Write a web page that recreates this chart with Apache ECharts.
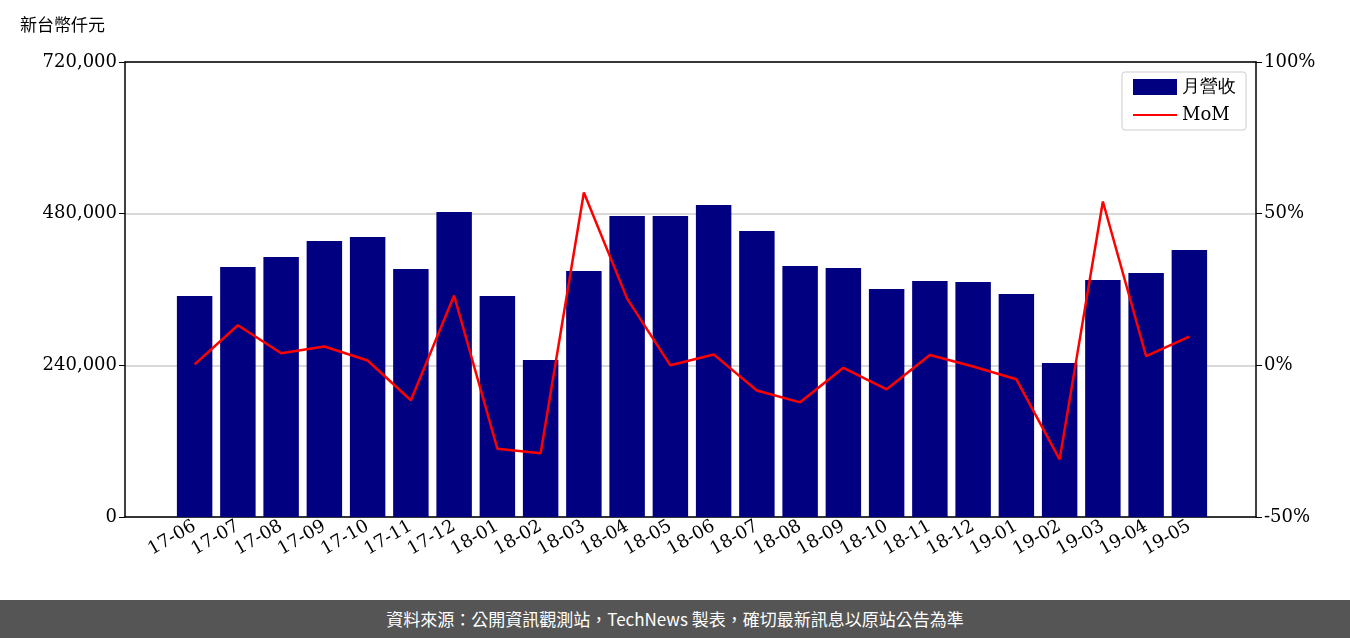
<!DOCTYPE html>
<html><head><meta charset="utf-8">
<script src="https://cdn.jsdelivr.net/npm/echarts@6/dist/echarts.min.js"></script>
<style>body{margin:0}#c{width:1350px;height:638px}
#f{position:absolute;left:0;top:600px;width:1350px;height:38px;background:#555;color:#fff;font:17px "Noto Sans CJK TC";text-align:center;line-height:38px}</style>
</head><body><div id="c"></div><div id="f">資料來源：公開資訊觀測站，TechNews 製表，確切最新訊息以原站公告為準</div>
<script>
var months = ['17-06','17-07','17-08','17-09','17-10','17-11','17-12','18-01','18-02','18-03','18-04','18-05','18-06','18-07','18-08','18-09','18-10','18-11','18-12','19-01','19-02','19-03','19-04','19-05'];
// 月營收 (新台幣仟元)
var revenue = [349700,395600,411400,436700,443100,392400,482600,349700,248400,389300,476300,476300,493700,452600,397200,394000,360800,373400,371900,352900,243700,375000,386100,422500];
// MoM %
var mom = [0.3,13.2,4,6.2,1.6,-11.5,23,-27.5,-29,57,22,0,3.6,-8.3,-12.2,-0.8,-7.9,3.4,-0.4,-4.6,-31,54,3,9.5];

var serif = 'DejaVu Serif';
var black = {color: '#000', width: 1.5};
var chart = echarts.init(document.getElementById('c'));
chart.setOption({
    animation: false,
    grid: [
        {left: 125, right: 94, top: 62, bottom: 121},
        {left: 173, right: 139, top: 62, bottom: 121}
    ],
    graphic: [{type: 'text', left: 20, top: 16, style: {text: '新台幣仟元', font: '17px "Noto Sans CJK TC"', fill: '#000'}}],
    legend: {
        right: 104, top: 72, orient: 'vertical', itemWidth: 44, itemHeight: 16, itemGap: 10,
        borderColor: '#ccc', borderWidth: 1, borderRadius: 3, padding: [6, 10],
        textStyle: {fontFamily: serif, fontSize: 18, color: '#000'},
        data: [{name: '月營收', icon: 'rect'}, {name: 'MoM', itemStyle: {opacity: 0}}]
    },
    xAxis: [{
        gridIndex: 0, type: 'value', min: 0, max: 1, position: 'bottom',
        axisLine: {onZero: false, lineStyle: black}, axisTick: {show: false}, axisLabel: {show: false}, splitLine: {show: false}
    }, {
        gridIndex: 0, type: 'value', min: 0, max: 1, position: 'top',
        axisLine: {onZero: false, lineStyle: black}, axisTick: {show: false}, axisLabel: {show: false}, splitLine: {show: false}
    }, {
        gridIndex: 1, type: 'category', data: months,
        axisLine: {show: false},
        axisTick: {alignWithLabel: true, length: 6, lineStyle: {color: '#000'}},
        axisLabel: {interval: 0, rotate: 30, fontFamily: serif, fontSize: 18, color: '#000', margin: 8}
    }],
    yAxis: [{
        gridIndex: 0, type: 'value', min: 0, max: 720000, interval: 240000, position: 'left',
        axisLine: {show: true, onZero: false, lineStyle: black},
        axisTick: {show: true, length: 6, lineStyle: {color: '#000'}},
        axisLabel: {fontFamily: serif, fontSize: 18, color: '#000',
            formatter: function (v) { return v.toLocaleString('en-US'); }},
        splitLine: {lineStyle: {color: '#ccc', width: 1.5}}
    }, {
        gridIndex: 0, type: 'value', min: -50, max: 100, interval: 50, position: 'right',
        axisLine: {show: true, onZero: false, lineStyle: black},
        axisTick: {show: true, length: 6, lineStyle: {color: '#000'}},
        axisLabel: {fontFamily: serif, fontSize: 18, color: '#000', formatter: '{value}%'},
        splitLine: {show: false}
    }, {
        gridIndex: 1, type: 'value', min: 0, max: 720000, show: false, splitLine: {show: false}
    }, {
        gridIndex: 1, type: 'value', min: -50, max: 100, show: false, splitLine: {show: false}
    }],
    series: [{
        name: '月營收', type: 'bar', data: revenue, xAxisIndex: 2, yAxisIndex: 2, barCategoryGap: '18%',
        itemStyle: {color: '#000080'}
    }, {
        name: 'MoM', type: 'line', data: mom, xAxisIndex: 2, yAxisIndex: 3, symbol: 'none',
        lineStyle: {color: '#ff0000', width: 2.5}, itemStyle: {color: '#ff0000'}
    }]
});
</script></body></html>
